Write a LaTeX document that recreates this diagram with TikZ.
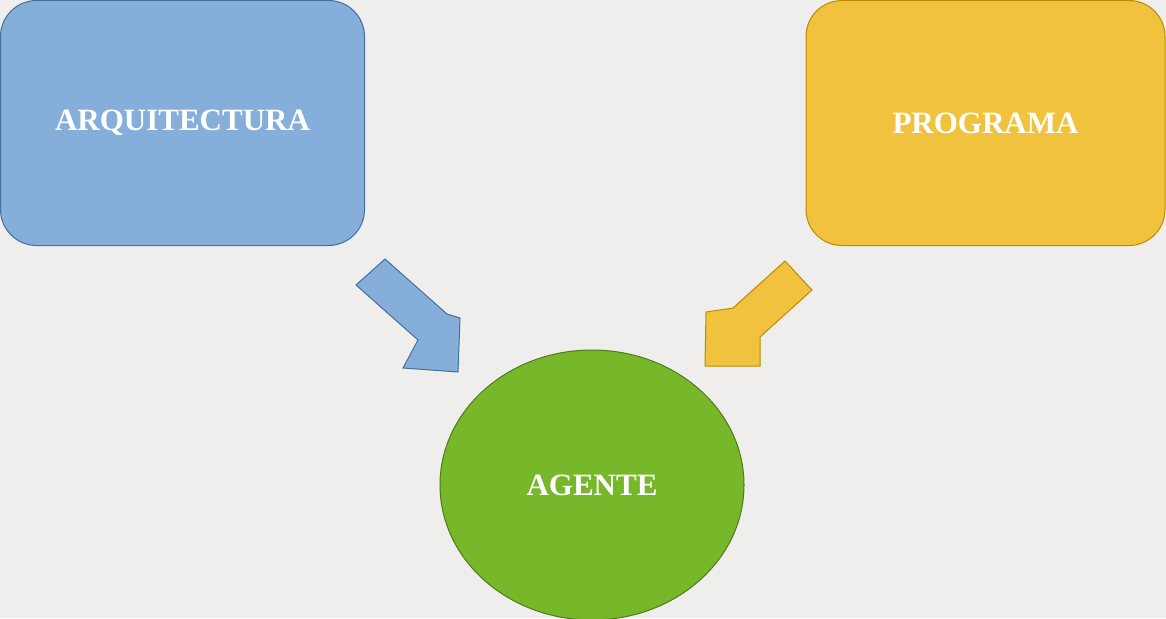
\documentclass[tikz,border=0pt]{standalone}
\usepackage{fontspec}
\setmainfont{Liberation Serif}
\usetikzlibrary{shapes.geometric}
\definecolor{bg}{HTML}{EFEEED}
\definecolor{bfill}{HTML}{85AEDA}
\definecolor{bline}{HTML}{41719C}
\definecolor{yfill}{HTML}{F0C23E}
\definecolor{yline}{HTML}{BC8C00}
\definecolor{gfill}{HTML}{76B82A}
\definecolor{gline}{HTML}{4F7A1C}
\tikzset{lbl/.style={text=white,font=\bfseries\fontsize{31}{34}\selectfont}}
\begin{document}
\begin{tikzpicture}[x=1pt,y=-1pt]
\fill[bg] (0,0) rectangle (1166,618);
\useasboundingbox (0,0) rectangle (1166,618);
\node[draw=bline,fill=bfill,line width=1pt,rounded corners=36pt,minimum width=364pt,minimum height=245pt,lbl] (arq) at (182.5,123) {ARQUITECTURA};
\node[draw=yline,fill=yfill,line width=1pt,rounded corners=36pt,minimum width=359pt,minimum height=245pt,lbl] (prog) at (985.5,123) {PROGRAMA};
\node[ellipse,draw=gline,fill=gfill,line width=1pt,minimum width=304pt,minimum height=270pt,lbl] (ag) at (592,485) {AGENTE};
\draw[bline,fill=bfill,line width=1pt] (356,285) -- (385,259) -- (447,314) -- (460,318) -- (458,372) -- (403,368) -- (418,340) -- cycle;
\draw[yline,fill=yfill,line width=1pt] (785,261) -- (812,290) -- (760,337) -- (760,366) -- (705,366) -- (706,312) -- (733,308) -- cycle;
\end{tikzpicture}
\end{document}
